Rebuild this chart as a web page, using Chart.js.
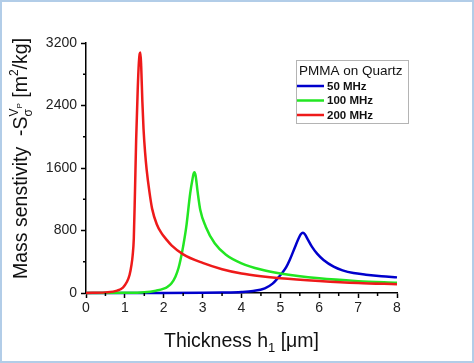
<!DOCTYPE html>
<html>
<head>
<meta charset="utf-8">
<script src="https://cdn.jsdelivr.net/npm/chart.js@4.4.1/dist/chart.umd.min.js"></script>
<style>
	html, body { margin: 0; padding: 0; background: #fff; }
	#quadro { position: relative; width: 474px; height: 363px; }
	#moldura { position: absolute; left: 0; top: 0; width: 474px; height: 363px; box-sizing: border-box; border: 2px solid #b2cde8; pointer-events: none; }
</style>
</head>
<body>
<div id="quadro">
	<canvas id="graficoSensibilidade" width="474" height="363"></canvas>
	<div id="moldura"></div>
</div>
<script>
var legendTitle = 'PMMA on Quartz';
var seriesLabels = ['50 MHz', '100 MHz', '200 MHz'];
var xTickValues = [0, 1, 2, 3, 4, 5, 6, 7, 8];
var yTickValues = [0, 800, 1600, 2400, 3200];

// 50 MHz
var thickness50 = [0, 2, 3, 3.5, 4, 4.3, 4.6, 4.8, 4.95, 5.04, 5.15, 5.24, 5.38, 5.48, 5.53, 5.58, 5.63, 5.7, 5.81, 5.95, 6.11, 6.37, 6.6, 6.88, 7.2, 7.6, 8];
var sens50 = [0, 0, 2, 5, 12, 25, 60, 120, 200, 252, 330, 422, 593, 710, 755, 770, 752, 690, 593, 500, 422, 337, 290, 255, 235, 215, 200];

// 100 MHz
var thickness100 = [0, 1, 1.5, 1.8, 2, 2.1, 2.2, 2.3, 2.38, 2.43, 2.5, 2.58, 2.68, 2.74, 2.77, 2.79, 2.82, 2.87, 2.94, 3.08, 3.31, 3.6, 4, 4.5, 5, 6, 7, 8];
var sens100 = [0, 2, 10, 30, 55, 81, 125, 209, 320, 422, 600, 849, 1276, 1460, 1530, 1545, 1500, 1300, 1062, 849, 636, 490, 380, 300, 250, 188, 152, 130];

// 200 MHz
var thickness200 = [0, 0.5, 0.8, 0.95, 1.05, 1.12, 1.17, 1.2, 1.23, 1.26, 1.29, 1.33, 1.36, 1.38, 1.4, 1.42, 1.45, 1.48, 1.52, 1.56, 1.63, 1.7, 1.82, 1.95, 2.06, 2.2, 2.5, 3, 3.5, 4, 4.5, 5, 6, 7, 8];
var sens200 = [0, 8, 30, 70, 140, 230, 360, 480, 700, 1300, 1958, 2600, 2950, 3060, 3080, 2900, 2450, 2100, 1800, 1580, 1300, 1080, 880, 760, 690, 610, 495, 385, 305, 250, 215, 190, 155, 128, 112];

var cores = ['#0000cc', '#22e622', '#ee1a1a'];
var fonte = '"Liberation Sans", Arial, sans-serif';

function pontos(xs, ys) {
	return xs.map(function(x, i) { return { x: x, y: ys[i] }; });
}

function serie(i, xs, ys, ordem) {
	return {
		label: seriesLabels[i],
		data: pontos(xs, ys),
		showLine: true,
		borderColor: cores[i],
		backgroundColor: cores[i],
		borderWidth: 2.5,
		pointRadius: 0,
		cubicInterpolationMode: 'monotone',
		fill: false,
		clip: 4,
		order: ordem
	};
}

// desenha texto com partes em sobrescrito/subscrito
function textoComposto(ctx, partes, x, y) {
	var pos = x;
	partes.forEach(function(p) {
		ctx.font = (p.bold ? 'bold ' : '') + p.size + 'px ' + fonte;
		ctx.fillText(p.text, pos, y + (p.dy || 0));
		if (!p.stack) pos += ctx.measureText(p.text).width;
	});
	return pos;
}

var extras = {
	id: 'extras',
	afterDraw: function(chart) {
		var ctx = chart.ctx;
		var sx = chart.scales.x, sy = chart.scales.y;
		ctx.save();
		ctx.strokeStyle = '#000';
		ctx.lineWidth = 1.5;

		// ticks menores
		ctx.beginPath();
		for (var v = 0.5; v < 8; v += 1) {
			var px = sx.getPixelForValue(v);
			ctx.moveTo(px, sx.top);
			ctx.lineTo(px, sx.top + 3);
		}
		for (var w = 400; w < 3200; w += 800) {
			var py = sy.getPixelForValue(w);
			ctx.moveTo(sy.right, py);
			ctx.lineTo(sy.right - 3, py);
		}
		ctx.stroke();

		ctx.fillStyle = '#111';
		ctx.textBaseline = 'alphabetic';
		ctx.textAlign = 'left';

		// titulo eixo x
		var partesX = [
			{ text: 'Thickness h', size: 19.5 },
			{ text: '1', size: 13, dy: 5 },
			{ text: ' [\u03bcm]', size: 19.5 }
		];
		ctx.font = '19.5px ' + fonte;
		var largura = ctx.measureText('Thickness h').width + ctx.measureText(' [\u03bcm]').width;
		ctx.font = '13px ' + fonte;
		largura += ctx.measureText('1').width;
		var cx = (chart.chartArea.left + chart.chartArea.right) / 2;
		textoComposto(ctx, partesX, cx - largura / 2, 347);

		// titulo eixo y
		ctx.save();
		ctx.translate(27, 279);
		ctx.rotate(-Math.PI / 2);
		var partesY = [
			{ text: 'Mass senstivity  -S', size: 19.5 },
			{ text: '\u03c3', size: 12, dy: 5, stack: true },
			{ text: 'V', size: 12, dy: -9 },
			{ text: 'P', size: 8, dy: -5 },
			{ text: ' [m', size: 19.5 },
			{ text: '2', size: 12, dy: -9 },
			{ text: '/kg]', size: 19.5 }
		];
		textoComposto(ctx, partesY, 0, 0);
		ctx.restore();

		// legenda
		var lx = 296, ly = 60, lw = 112, lh = 63;
		ctx.fillStyle = '#fff';
		ctx.fillRect(lx, ly, lw, lh);
		ctx.strokeStyle = '#b4b4b4';
		ctx.lineWidth = 1;
		ctx.strokeRect(lx + 0.5, ly + 0.5, lw, lh);
		ctx.fillStyle = '#111';
		ctx.font = '13.5px ' + fonte;
		ctx.textBaseline = 'middle';
		ctx.fillText(legendTitle, lx + 3, ly + 11);
		var linhasY = [86, 100.5, 115];
		seriesLabels.forEach(function(rotulo, i) {
			ctx.strokeStyle = cores[i];
			ctx.lineWidth = 2.5;
			ctx.beginPath();
			ctx.moveTo(lx + 1, linhasY[i]);
			ctx.lineTo(lx + 28, linhasY[i]);
			ctx.stroke();
			ctx.fillStyle = '#111';
			ctx.font = 'bold 11.5px ' + fonte;
			ctx.fillText(rotulo, lx + 31, linhasY[i] + 0.5);
		});
		ctx.restore();
	}
};

function eixo(min, max, valores, lado) {
	return {
		type: 'linear',
		min: min,
		max: max,
		afterBuildTicks: function(s) {
			s.ticks = valores.map(function(v) { return { value: v }; });
		},
		afterFit: function(s) {
			if (lado === 'x') s.height = 70; else s.width = 86;
		},
		grid: { drawOnChartArea: false, drawTicks: true, tickLength: 5, tickWidth: 1.5, tickColor: '#000' },
		border: { color: '#000', width: 1.5 },
		ticks: {
			color: '#222',
			font: { size: 14, family: fonte },
			padding: lado === 'x' ? 2 : 4,
			maxRotation: 0,
			autoSkip: false,
			callback: function(valor) { return String(valor); }
		}
	};
}

new Chart(document.getElementById('graficoSensibilidade').getContext('2d'), {
	type: 'scatter',
	data: {
		datasets: [
			serie(0, thickness50, sens50, 2),
			serie(1, thickness100, sens100, 1),
			serie(2, thickness200, sens200, 0)
		]
	},
	options: {
		responsive: false,
		animation: false,
		layout: { padding: { top: 43, right: 77, left: 0, bottom: 0 } },
		plugins: {
			legend: { display: false },
			tooltip: { enabled: false }
		},
		scales: {
			x: eixo(0, 8, xTickValues, 'x'),
			y: eixo(0, 3200, yTickValues, 'y')
		}
	},
	plugins: [extras]
});
</script>
</body>
</html>
